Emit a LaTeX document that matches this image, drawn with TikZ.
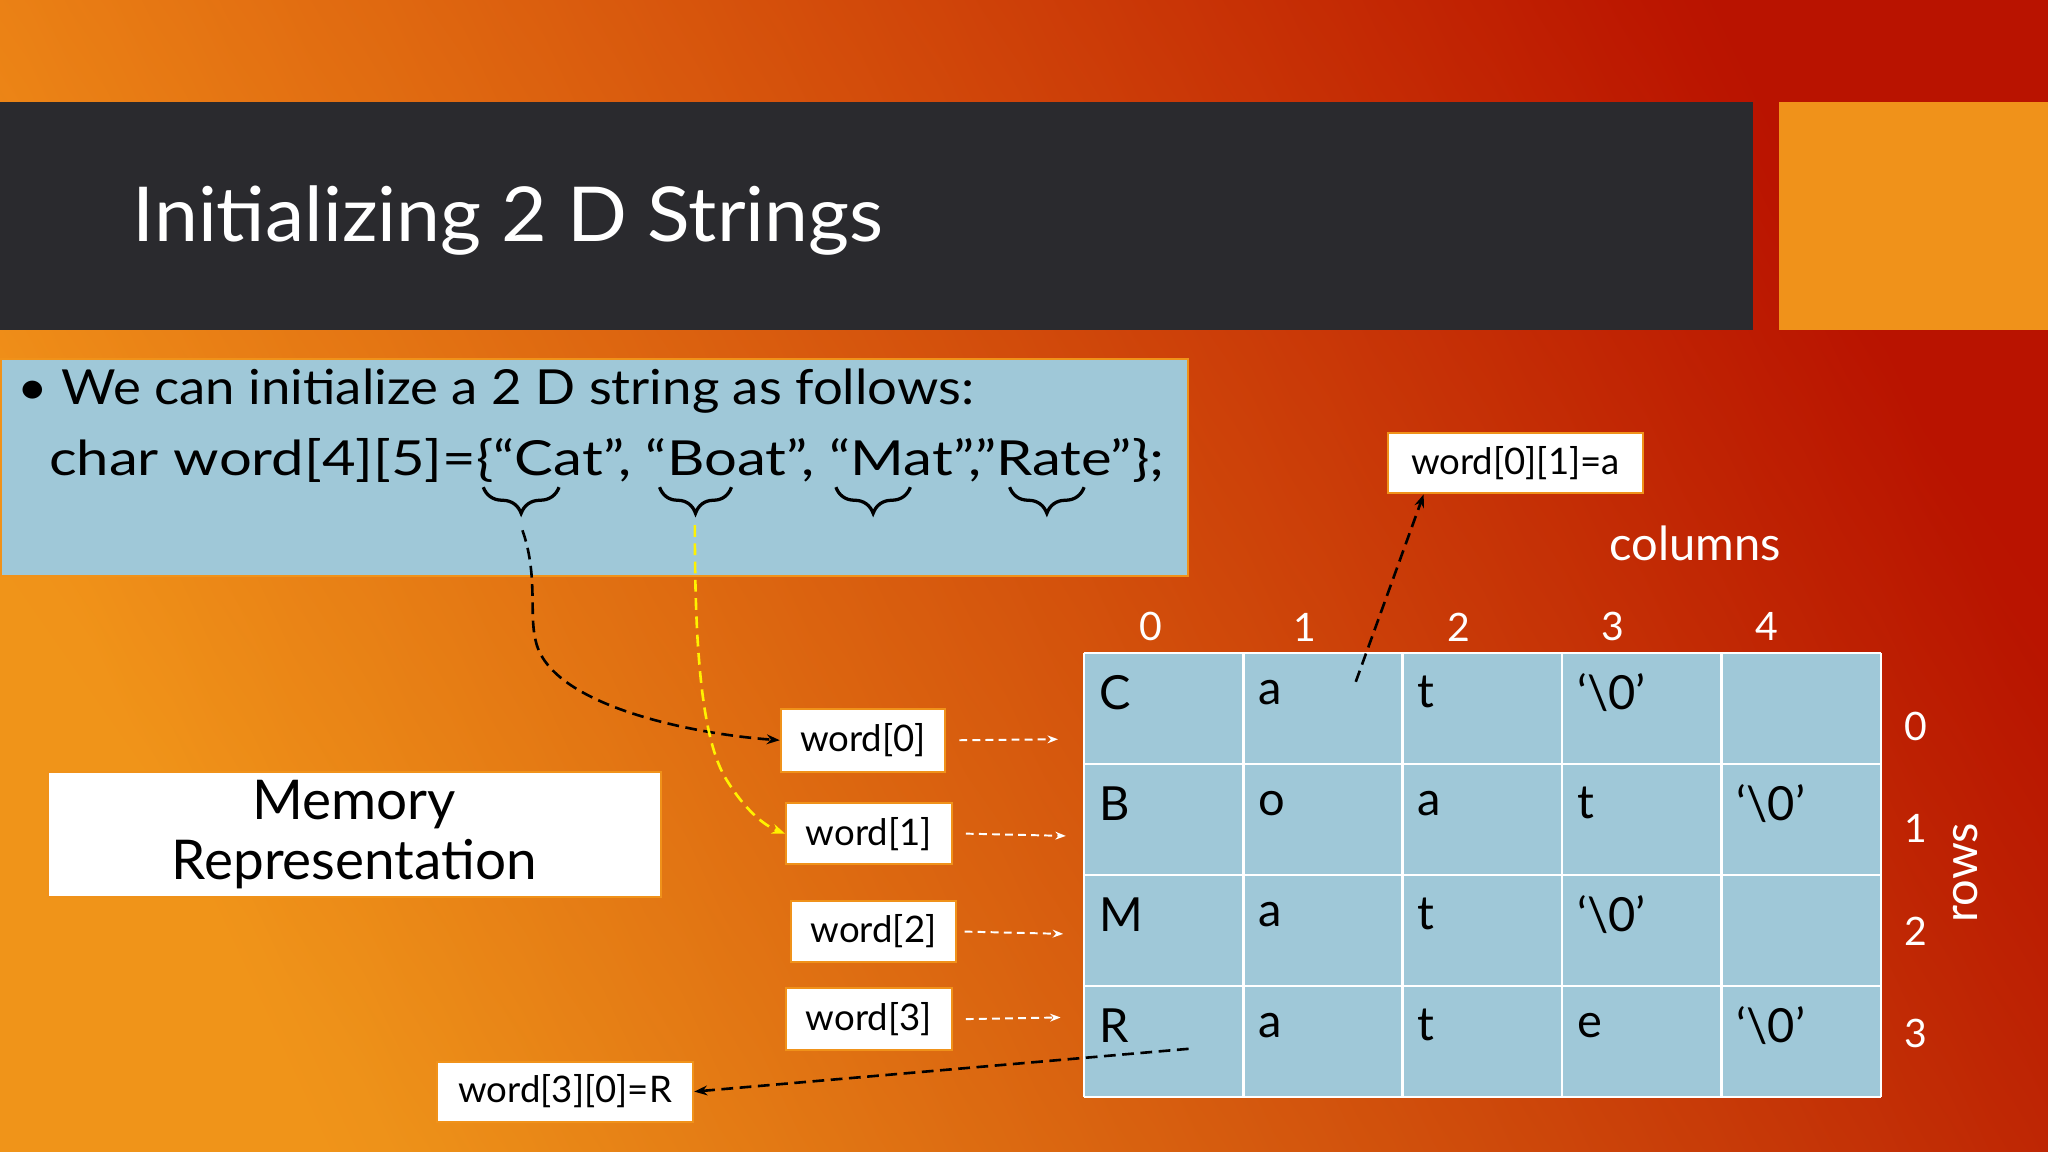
\documentclass[tikz,border=0pt]{standalone}
\usepackage{fontspec}
\setmainfont{Lato}
\usetikzlibrary{arrows.meta,decorations.pathreplacing}
\definecolor{cellblue}{HTML}{9FC8D8}
\definecolor{band}{HTML}{2A2A2E}
\definecolor{orng}{HTML}{F0921A}
\newcommand{\fs}[1]{\fontsize{#1}{#1}\selectfont}
\begin{document}
\begin{tikzpicture}[x=1pt,y=-1pt,
  lbl/.style={draw=orng,line width=1.5pt,fill=white,inner sep=0pt,font=\fs{28},anchor=north west},
  wdash/.style={white,dash pattern=on 6pt off 4pt,line width=1.5pt,-{Stealth[length=8pt]}},
  bdash/.style={black,dash pattern=on 9pt off 5pt,line width=2pt,-{Stealth[length=10pt]}},
  num/.style={white,font=\fs{30}},
  cell/.style={font=\fs{36},anchor=west},
  brc/.style={decorate,decoration={brace,mirror,amplitude=20pt,aspect=0.5},line width=2.5pt}]
\useasboundingbox (0,0) rectangle (1568,882);
\shade[left color=orng!95!yellow, right color=red!45!black, shading angle=115] (0,0) rectangle (1568,882);
\shade[left color=orng, right color=red!70!orange, shading angle=125,opacity=0.5] (0,0) rectangle (1568,882);
\fill[band] (0,78) rectangle (1342,253);
\fill[orng] (1362,78) rectangle (1568,253);
\node[white,anchor=base west,font=\fs{58}] (title) at (98,185) {\scalebox{1.04}[1]{Initializing 2 D Strings}};
\node[draw=orng,line width=1.5pt,fill=cellblue,minimum width=909pt,minimum height=166pt,anchor=north west,inner sep=0pt] (blue) at (0,274) {};
\node[anchor=base west,font=\fs{37}] (l1) at (10,310) {\scalebox{1.09}[1]{\textbullet\ We can initialize a 2 D string as follows:}};
\node[anchor=base west,font=\fs{37}] (l2) at (34,364) {\scalebox{1.2}[1]{char word[4][5]=\{“Cat”, “Boat”, “Mat”,”Rate”\};}};
\draw[brc] (370,373) -- (428,373);
\draw[brc] (505,373) -- (560,373);
\draw[brc] (640,373) -- (697,373);
\draw[brc] (773,373) -- (830,373);
\coordinate (catt) at (400,406);
\coordinate (boatt) at (532,402);
% grid
\fill[cellblue] (830,500) rectangle (1440,840);
\foreach \i in {0,...,5}{\draw[white,line width=2pt] (830+122*\i,500) -- (830+122*\i,840);}
\foreach \j in {0,...,4}{\draw[white,line width=2pt] (830,500+85*\j) -- (1440,500+85*\j);}
\foreach \r [count=\j from 0] in {{C,a,t,‘\textbackslash 0’,},{B,o,a,t,‘\textbackslash 0’},{M,a,t,‘\textbackslash 0’,},{R,a,t,e,‘\textbackslash 0’}}{
  \foreach \c [count=\i from 0] in \r {\node[cell] at (838+122*\i,530+85*\j) {\c};}}
\foreach \i in {0,...,4}{\node[num] at (881+118*\i,480) {\i};}
\foreach \j/\y in {0/556,1/634,2/713,3/791}{\node[num] at (1467,\y) {\j};}
\node[white,font=\fs{36}] (cols) at (1298,416) {columns};
\node[white,font=\fs{36},rotate=90] (rows) at (1505,668) {rows};
% labels
\node[lbl,minimum width=126pt,minimum height=48pt] (w0) at (597,542) {word[0]};
\node[lbl,minimum width=127pt,minimum height=47pt] (w1) at (601,614) {word[1]};
\node[lbl,minimum width=126pt,minimum height=47pt] (w2) at (605,689) {word[2]};
\node[lbl,minimum width=127pt,minimum height=47pt] (w3) at (601,756) {word[3]};
\coordinate (g0) at (810,566); \coordinate (g1) at (816,640);
\coordinate (g2) at (814,715); \coordinate (g3) at (812,779);
\draw[wdash] (w0.east)++(10,0) -- (g0);
\draw[wdash] (w1.east)++(10,0) -- (g1);
\draw[wdash] (w2.east)++(6,0) -- (g2);
\draw[wdash] (w3.east)++(10,0) -- (g3);
\node[lbl,minimum width=195pt,minimum height=46pt] (w01) at (1062,331) {word[0][1]=a};
\node[lbl,minimum width=196pt,minimum height=46pt] (w30) at (334,812) {word[3][0]=R};
\coordinate (a1) at (1038,522);
\coordinate (r1) at (910,803);
\draw[bdash] (a1) -- (w01.south west -| 1090,377);
\draw[bdash] (r1) -- (w30.east);
\node[lbl,minimum width=469pt,minimum height=96pt,font=\fs{42},align=center,anchor=north west] (mem) at (36,590) {Memory\\[4pt]Representation};
\draw[bdash] (catt) .. controls (412,440) and (405,470) .. (410,490) .. controls (420,540) and (530,562) .. (w0.west);
\draw[yellow,dash pattern=on 9pt off 5pt,line width=2pt,-{Stealth[length=10pt]}] (boatt) .. controls (532,480) and (535,560) .. (555,595) .. controls (570,620) and (585,632) .. (w1.west);
\end{tikzpicture}
\end{document}
